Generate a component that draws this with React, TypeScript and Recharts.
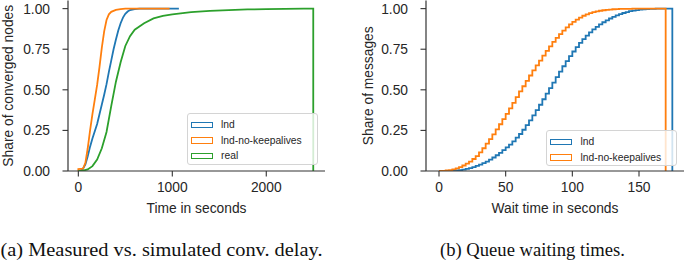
import React from 'react';
import { LineChart, Line, XAxis, YAxis } from 'recharts';

const shareTicks = [0, 0.25, 0.5, 0.75, 1];
const convTicks = [0, 1000, 2000];
const waitTicks = [0, 50, 100, 150];

// (a) convergence delay, cumulative share of converged nodes
const lndTimes = [0, 25, 50, 75, 100, 125, 150, 175, 200, 225, 250, 275, 300, 325, 350, 375, 400, 425, 450, 475, 500, 525, 550, 600, 650, 1070];
const lndShare = [0, 0.003, 0.015, 0.04, 0.09, 0.15, 0.2, 0.245, 0.29, 0.35, 0.41, 0.47, 0.535, 0.61, 0.68, 0.75, 0.81, 0.865, 0.91, 0.945, 0.968, 0.982, 0.991, 0.997, 1, 1];

const noKaTimes = [0, 0, 50, 75, 100, 125, 150, 175, 200, 225, 250, 275, 300, 325, 350, 400, 450, 500, 971];
const noKaShare = [0, 0.012, 0.014, 0.05, 0.14, 0.25, 0.35, 0.44, 0.53, 0.64, 0.76, 0.86, 0.93, 0.965, 0.98, 0.992, 0.997, 1, 1];

const realTimes = [0, 50, 100, 150, 200, 250, 300, 350, 400, 450, 500, 550, 600, 700, 800, 900, 1000, 1200, 1400, 1600, 1800, 2000, 2200, 2400, 2500, 2500];
const realShare = [0, 0.002, 0.01, 0.03, 0.07, 0.14, 0.24, 0.4, 0.55, 0.67, 0.77, 0.83, 0.87, 0.91, 0.94, 0.955, 0.965, 0.978, 0.986, 0.991, 0.995, 0.997, 0.999, 1, 1, 0];

// (b) queue waiting times, histogram bins of 2.5 s
const waitBins = [
  0, 2.5, 5, 7.5, 10, 12.5, 15, 17.5, 20, 22.5, 25, 27.5, 30, 32.5, 35, 37.5, 40, 42.5, 45, 47.5,
  50, 52.5, 55, 57.5, 60, 62.5, 65, 67.5, 70, 72.5, 75, 77.5, 80, 82.5, 85, 87.5, 90, 92.5, 95, 97.5,
  100, 102.5, 105, 107.5, 110, 112.5, 115, 117.5, 120, 122.5, 125, 127.5, 130, 132.5, 135, 137.5, 140, 142.5, 145, 147.5,
  150, 152.5, 155, 157.5, 160, 162.5, 165, 167.5, 170, 172.5, 175,
];
const lndWait = [
  0, 0, 0.001, 0.001, 0.002, 0.004, 0.006, 0.009, 0.013, 0.018, 0.024, 0.031, 0.039, 0.048, 0.058, 0.07, 0.083, 0.097, 0.112, 0.128,
  0.145, 0.163, 0.183, 0.205, 0.228, 0.254, 0.282, 0.312, 0.343, 0.375, 0.408, 0.442, 0.476, 0.51, 0.544, 0.578, 0.612, 0.645, 0.677, 0.707,
  0.736, 0.763, 0.789, 0.812, 0.834, 0.854, 0.872, 0.888, 0.903, 0.916, 0.928, 0.939, 0.949, 0.958, 0.966, 0.973, 0.979, 0.984, 0.988, 0.991,
  0.994, 0.996, 0.997, 0.998, 0.999, 1, 1, 1, 1, 1, 0,
];
const noKaWait = [
  0, 0.001, 0.003, 0.006, 0.01, 0.016, 0.024, 0.034, 0.045, 0.058, 0.074, 0.092, 0.115, 0.14, 0.168, 0.196, 0.226, 0.256, 0.288, 0.32,
  0.352, 0.386, 0.42, 0.455, 0.49, 0.522, 0.555, 0.588, 0.62, 0.65, 0.68, 0.71, 0.74, 0.768, 0.795, 0.82, 0.843, 0.865, 0.885, 0.903,
  0.918, 0.932, 0.945, 0.956, 0.965, 0.972, 0.978, 0.983, 0.987, 0.99, 0.992, 0.994, 0.996, 0.997, 0.998, 0.998, 0.999, 0.999, 1, 1,
  1, 1, 1, 1, 1, 1, 1, 1, 0,
];

const BLUE = '#1f77b4';
const ORANGE = '#ff7f0e';
const GREEN = '#2ca02c';
const INK = '#262626';
const SPINE = '#333333';
const SANS = 'Liberation Sans';

const pairs = (xs: number[], ys: number[]) => ys.map((v, i) => ({ t: xs[i], v }));

const lndData = pairs(lndTimes, lndShare);
const noKaData = pairs(noKaTimes, noKaShare);
const realData = pairs(realTimes, realShare);
const lndWaitData = pairs(waitBins, lndWait);
const noKaWaitData = pairs(waitBins, noKaWait);

const tickStyle = { fill: INK, fontSize: 13.8, fontFamily: SANS };
const titleStyle = { fill: INK, fontSize: 13.8, fontFamily: SANS };
const axisLine = { stroke: SPINE, strokeWidth: 1.2 };
const tickLine = { stroke: SPINE, strokeWidth: 1.1 };

interface LegendItem {
  name: string;
  color: string;
}

const LegendBox: React.FC<{ items: LegendItem[]; left: number; top: number; height: number }> = ({ items, left, top, height }) => (
  <div
    style={{
      position: 'absolute',
      left,
      top,
      width: 131,
      height,
      boxSizing: 'border-box',
      border: '1px solid #d4d4d4',
      borderRadius: 3,
      background: 'rgba(255,255,255,0.8)',
      paddingTop: 3,
      fontFamily: SANS,
      fontSize: 10.3,
      color: INK,
    }}
  >
    {items.map((it) => (
      <div key={it.name} style={{ display: 'flex', alignItems: 'center', height: 15.6 }}>
        <div
          style={{
            marginLeft: 3,
            width: 22,
            height: 6.5,
            boxSizing: 'border-box',
            border: `1.8px solid ${it.color}`,
            background: '#fff',
          }}
        />
        <span style={{ marginLeft: 8.5, whiteSpace: 'nowrap' }}>{it.name}</span>
      </div>
    ))}
  </div>
);

const convLegend: LegendItem[] = [
  { name: 'lnd', color: BLUE },
  { name: 'lnd-no-keepalives', color: ORANGE },
  { name: 'real', color: GREEN },
];
const waitLegend: LegendItem[] = [
  { name: 'lnd', color: BLUE },
  { name: 'lnd-no-keepalives', color: ORANGE },
];

export default function App() {
  const lineProps = { dataKey: 'v', dot: false, activeDot: false, isAnimationActive: false, strokeWidth: 1.8 } as const;
  return (
    <div style={{ position: 'absolute', left: 0, top: 0, width: 685, height: 261, overflow: 'hidden', background: '#fff' }}>
      <div style={{ position: 'absolute', left: 0, top: 0 }}>
        <LineChart width={340} height={230} margin={{ top: 0.5, right: 15, bottom: 29, left: 0 }}>
          <XAxis
            xAxisId="b"
            type="number"
            dataKey="t"
            domain={[-110, 2625]}
            ticks={convTicks}
            interval={0}
            allowDataOverflow
            height={30}
            tickSize={5.5}
            tickMargin={5.3}
            tick={tickStyle}
            axisLine={axisLine}
            tickLine={tickLine}
            label={{ value: 'Time in seconds', position: 'bottom', offset: 2.5, style: titleStyle }}
          />
          <XAxis xAxisId="top" orientation="top" type="number" domain={[-110, 2625]} height={0} tick={false} tickLine={false} axisLine={axisLine} />
          <YAxis
            yAxisId="l"
            type="number"
            domain={[0, 1.05]}
            ticks={shareTicks}
            interval={0}
            allowDataOverflow
            width={68}
            tickSize={5.5}
            tickMargin={12.5}
            tick={tickStyle}
            axisLine={axisLine}
            tickLine={tickLine}
            tickFormatter={(v: number) => v.toFixed(2)}
            label={{ value: 'Share of converged nodes', angle: -90, position: 'insideLeft', offset: 8, style: { ...titleStyle, textAnchor: 'middle' } }}
          />
          <YAxis yAxisId="r" orientation="right" type="number" domain={[0, 1.05]} width={0} tick={false} tickLine={false} axisLine={axisLine} />
          <Line xAxisId="b" yAxisId="l" data={lndData} type="linear" stroke={BLUE} {...lineProps} />
          <Line xAxisId="b" yAxisId="l" data={noKaData} type="linear" stroke={ORANGE} {...lineProps} />
          <Line xAxisId="b" yAxisId="l" data={realData} type="linear" stroke={GREEN} {...lineProps} />
        </LineChart>
      </div>
      <LegendBox items={convLegend} left={186.5} top={113} height={52} />

      <div style={{ position: 'absolute', left: 340, top: 0 }}>
        <LineChart width={345} height={230} margin={{ top: 0.5, right: 1, bottom: 29, left: 0 }}>
          <XAxis
            xAxisId="b"
            type="number"
            dataKey="t"
            domain={[-9.75, 183.75]}
            ticks={waitTicks}
            interval={0}
            allowDataOverflow
            height={30}
            tickSize={5.5}
            tickMargin={5.3}
            tick={tickStyle}
            axisLine={axisLine}
            tickLine={tickLine}
            label={{ value: 'Wait time in seconds', position: 'bottom', offset: 2.5, style: titleStyle }}
          />
          <XAxis xAxisId="top" orientation="top" type="number" domain={[-9.75, 183.75]} height={0} tick={false} tickLine={false} axisLine={axisLine} />
          <YAxis
            yAxisId="l"
            type="number"
            domain={[0, 1.05]}
            ticks={shareTicks}
            interval={0}
            allowDataOverflow
            width={86}
            tickSize={5.5}
            tickMargin={12.5}
            tick={tickStyle}
            axisLine={axisLine}
            tickLine={tickLine}
            tickFormatter={(v: number) => v.toFixed(2)}
            label={{ value: 'Share of messages', angle: -90, position: 'insideLeft', offset: 28, style: { ...titleStyle, textAnchor: 'middle' } }}
          />
          <YAxis yAxisId="r" orientation="right" type="number" domain={[0, 1.05]} width={0} tick={false} tickLine={false} axisLine={axisLine} />
          <Line xAxisId="b" yAxisId="l" data={lndWaitData} type="stepAfter" stroke={BLUE} {...lineProps} />
          <Line xAxisId="b" yAxisId="l" data={noKaWaitData} type="stepAfter" stroke={ORANGE} {...lineProps} />
        </LineChart>
      </div>
      <LegendBox items={waitLegend} left={546} top={130} height={36} />

      <svg width={685} height={261} style={{ position: 'absolute', left: 0, top: 0, pointerEvents: 'none' }}>
        <text x={0.5} y={256} fontFamily="Liberation Serif" fontSize={19.5} fill="#111" textLength={322} lengthAdjust="spacingAndGlyphs">
          (a) Measured vs. simulated conv. delay.
        </text>
        <text x={440} y={256} fontFamily="Liberation Serif" fontSize={19.5} fill="#111" textLength={185} lengthAdjust="spacingAndGlyphs">
          (b) Queue waiting times.
        </text>
      </svg>
    </div>
  );
}
